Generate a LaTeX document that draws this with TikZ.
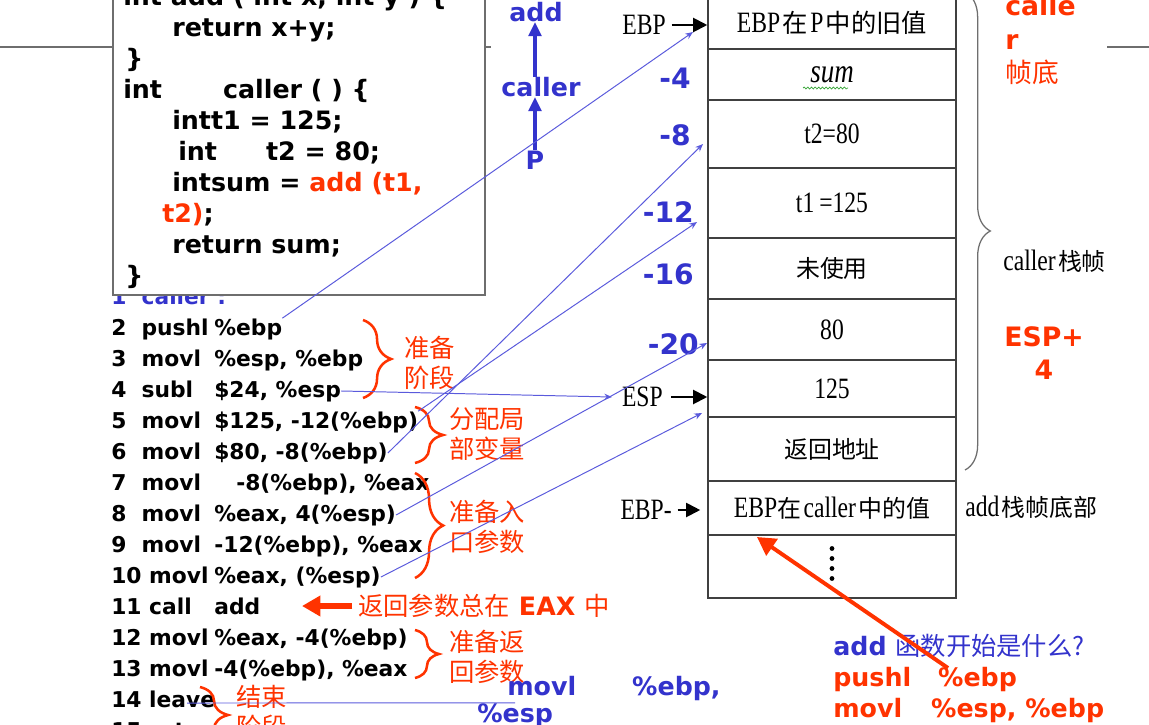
\documentclass[tikz,border=0pt]{standalone}
\usepackage{fontspec}
\setmainfont{DejaVu Sans}
\newfontfamily\cjk{Noto Sans CJK SC}
\newfontfamily\stk{Liberation Serif}[FakeStretch=0.8]
\usetikzlibrary{arrows.meta,decorations.pathreplacing,decorations.pathmorphing}

\newlength\px
\setlength\px{0.025cm}
\definecolor{labblue}{RGB}{51,51,204}
\definecolor{labred}{RGB}{255,51,0}
\definecolor{linkblue}{RGB}{90,90,220}
\definecolor{framegray}{RGB}{110,110,110}

\newcommand\hanzi[1]{{\cjk\mdseries #1}}
\newcommand\stxt[1]{{\stk\fontsize{21}{24}\selectfont #1}}
\newcommand\scjk[1]{{\cjk\fontsize{17}{20}\selectfont #1}}
\newcommand\op[1]{\makebox[103\px][l]{#1}}

\begin{document}
\begin{tikzpicture}
  [x=0.025cm, y=-0.025cm,
   listing/.style={font=\bfseries\fontsize{15.5}{18}\selectfont, anchor=base west, inner sep=0pt},
   boxcode/.style={font=\bfseries\fontsize{18}{21}\selectfont, anchor=base west, inner sep=0pt},
   note/.style={labred, font=\cjk\fontsize{18}{21.3}\selectfont, align=left, anchor=west, inner sep=0pt},
   phase/.style={labred, line width=1.8pt, decorate, decoration={brace, amplitude=20pt}},
   slot/.style={draw=black!75, line width=1.1pt, minimum width=248\px, inner sep=0pt},
   offset/.style={labblue, font=\bfseries\fontsize{20}{24}\selectfont, anchor=east, inner sep=0pt},
   reg/.style={font=\stk\fontsize{21}{24}\selectfont, anchor=east, inner sep=0pt},
   fname/.style={labblue, font=\bfseries\fontsize{18}{21}\selectfont, inner sep=0pt},
   tail/.style={font=\bfseries\fontsize{18}{21}\selectfont, anchor=base west, inner sep=0pt},
   ptr/.style={-{Triangle[length=10pt,width=10pt]}, line width=1.4pt},
   link/.style={linkblue, line width=0.7pt, -{Stealth[length=5.5pt,width=4.5pt]}},
   callarrow/.style={labblue, line width=2.5pt, -{Triangle[length=10pt,width=9pt]}},
   bigred/.style={labred, line width=3.6pt, -{Triangle[length=13pt,width=14pt]}}]
  \useasboundingbox (0,0) rectangle (1149,724);

  % slide rule
  \draw[framegray, line width=1pt] (0,47) -- (113,47);
  \draw[framegray, line width=1pt] (485,47) -- (491,47);
  \draw[framegray, line width=1pt] (1107,47) -- (1149,47);

  % assembly listing
  \node[listing, labblue] (l1) at (111,304) {1\ \ caller :};
  \node[listing] (l2) at (111,335) {\op{2\ \ pushl}\%ebp};
  \node[listing] (l3) at (111,366) {\op{3\ \ movl}\%esp, \%ebp};
  \node[listing] (l4) at (111,397) {\op{4\ \ subl}\$24, \%esp};
  \node[listing] (l5) at (111,428) {\op{5\ \ movl}\$125, -12(\%ebp)};
  \node[listing] (l6) at (111,459) {\op{6\ \ movl}\$80, -8(\%ebp)};
  \node[listing] (l7) at (111,490) {\op{7\ \ movl}\hspace{22\px}-8(\%ebp), \%eax};
  \node[listing] (l8) at (111,521) {\op{8\ \ movl}\%eax, 4(\%esp)};
  \node[listing] (l9) at (111,552) {\op{9\ \ movl}-12(\%ebp), \%eax};
  \node[listing] (l10) at (111,583) {\op{10 movl}\%eax, (\%esp)};
  \node[listing] (l11) at (111,614) {\op{11 call}add};
  \node[listing] (l12) at (111,645) {\op{12 movl}\%eax, -4(\%ebp)};
  \node[listing] (l13) at (111,676) {\op{13 movl}-4(\%ebp), \%eax};
  \node[listing] (l14) at (111,707) {14 leave};
  \node[listing] (l15) at (111,738) {15 ret};

  % C source
  \node[draw=framegray, line width=1.1pt, fill=white, minimum width=372\px,
        minimum height=340\px, inner sep=0pt] (codebox) at (299,125) {};
  \node[boxcode] (c1) at (123,5) {int add ( int x, int y ) \{};
  \node[boxcode] (c2) at (172,36) {return x+y;};
  \node[boxcode] (c3) at (125,67) {\}};
  \node[boxcode] (c4) at (123,98) {int\hspace{61\px}caller ( ) \{};
  \node[boxcode] (c5) at (172,129) {intt1 = 125;};
  \node[boxcode] (c6) at (178,160) {int\hspace{49\px}t2 = 80;};
  \node[boxcode] (c7) at (172,191) {intsum = \textcolor{labred}{add (t1,}};
  \node[boxcode] (c8) at (162,222) {\textcolor{labred}{t2)};};
  \node[boxcode] (c9) at (172,253) {return sum;};
  \node[boxcode] (c10) at (125,284) {\}};

  % phases
  \draw[phase] (363,320) -- (363,398);
  \draw[phase] (415,407) -- (415,463);
  \draw[phase] (415,473) -- (415,578);
  \draw[phase, decoration={amplitude=17pt}] (415,630) -- (415,678);
  \draw[phase] (200,687) -- (200,743);
  \node[note] (prep) at (404,363) {准备\\阶段};
  \node[note] (alloc) at (449,434) {分配局\\部变量};
  \node[note] (args) at (449,527) {准备入\\口参数};
  \node[note] (retv) at (449,657) {准备返\\回参数};
  \node[note] (fin) at (236,712) {结束\\阶段};

  \node[labred, anchor=west, inner sep=0pt, font=\bfseries\fontsize{18}{21}\selectfont]
    (eaxNote) at (358,606) {\hanzi{返回参数总在} EAX \hanzi{中}};
  \coordinate (callTip) at (302,606);
  \draw[bigred, shorten <=4pt] (eaxNote.west) -- (callTip);

  % call chain
  \node[fname] (fAdd) at (536,12) {add};
  \node[fname] (fCaller) at (541,87) {caller};
  \node[fname] (fP) at (535,160) {P};
  \draw[callarrow] (fP.north) -- (fP.north |- fCaller.south);
  \draw[callarrow] (fP.north |- fCaller.north) -- (fP.north |- fAdd.south);

  % stack
  \node[slot, minimum height=52\px] (r0) at (832,23) {\stxt{EBP}\,{\cjk\fontsize{18}{20}\selectfont 在}\,\stxt{P}\,{\cjk\fontsize{18}{20}\selectfont 中的旧值}};
  \node[slot, minimum height=51\px] (r1) at (832,74.5) {\stxt{\fontsize{24}{28}\selectfont\itshape sum}};
  \node[slot, minimum height=68\px] (r2) at (832,134) {\stxt{t2=80}};
  \node[slot, minimum height=70\px] (r3) at (832,203) {\stxt{t1\,=125}};
  \node[slot, minimum height=61\px] (r4) at (832,268.5) {\scjk{未使用}};
  \node[slot, minimum height=61\px] (r5) at (832,329.5) {\stxt{80}};
  \node[slot, minimum height=57\px] (r6) at (832,388.5) {\stxt{125}};
  \node[slot, minimum height=64\px] (r7) at (832,449) {\scjk{返回地址}};
  \node[slot, minimum height=54\px] (r8) at (832,508) {\stxt{EBP}\scjk{在}\,\stxt{caller}\,\scjk{中的值}};
  \node[slot, minimum height=63\px] (r9) at (832,566.5) {};
  \foreach \k in {0,...,3}
    \fill (r9.center) ++(0,-18+10*\k) circle[radius=1.7pt];
  \draw[green!55!black!80, line width=0.5pt, decorate,
        decoration={snake, amplitude=0.7pt, segment length=2.6pt}] (803,88) -- (848,88);

  % registers and offsets
  \node[reg] (ebpP) at (666,25) {EBP};
  \node[reg] (espL) at (663,397) {ESP};
  \node[reg] (ebpA) at (672,510) {EBP-};
  \draw[ptr, shorten <=4pt] (ebpP.east) -- (ebpP.east -| r0.west);
  \draw[ptr, shorten <=6pt] (espL.east) -- (espL.east -| r6.west);
  \draw[ptr, shorten <=4pt, shorten >=5pt] (ebpA.east) -- (ebpA.east -| r8.west);
  \node[offset] (o4) at (691,78) {-4};
  \node[offset] (o8) at (691,135) {-8};
  \node[offset] (o12) at (694,212) {-12};
  \node[offset] (o16) at (694,274) {-16};
  \node[offset] (o20) at (699,344) {-20};

  % frame notes
  \draw[framegray, line width=0.9pt, decorate, decoration={brace, amplitude=18pt}] (965,-8) -- (965,470);
  \node[labred, font=\bfseries\fontsize{19}{23.5}\selectfont, align=left, anchor=west, inner sep=0pt]
    (callerTop) at (1005,40) {calle\\r\\\hanzi{帧底}};
  \node[anchor=west, inner sep=0pt] (frameLbl) at (1003,261) {\stxt{caller}\,\scjk{栈帧}};
  \node[labred, font=\bfseries\fontsize{19}{24}\selectfont, align=center, inner sep=0pt]
    (espPlus) at (1044,353) {ESP+\\4};
  \node[anchor=west, inner sep=0pt] (addBase) at (965,507) {\stxt{add}\,\scjk{栈帧底部}};

  % add prologue
  \node[tail, labblue] (askAdd) at (833,655) {add \hanzi{函数开始是什么?}};
  \node[tail, labred] (pushE) at (833,686) {pushl\hspace{27\px}\%ebp};
  \node[tail, labred] (movE) at (833,717) {movl\hspace{29\px}\%esp, \%ebp};
  \coordinate (pushTail) at (948,668);
  \coordinate (oldTip) at (757,537);
  \draw[bigred, line width=2.8pt] (pushTail) -- (oldTip);

  % leave
  \node[tail, labblue] (lvA) at (507,695) {movl\hspace{56\px}\%ebp,};
  \node[tail, labblue] (lvB) at (477,722) {\%esp};
  \coordinate (lvStart) at (187,703);
  \draw[linkblue, line width=0.7pt] (lvStart) -- (lvB.north);

  % where each instruction writes
  \coordinate (tEBP) at (693,32);
  \coordinate (tM8) at (703,144);
  \coordinate (tM12) at (697,222);
  \coordinate (tM20) at (707,343);
  \coordinate (tESP) at (612,397);
  \coordinate (tRet) at (702,413);
  \draw[link] (l2.north east) -- (tEBP);
  \draw[link] (l4.east) -- (tESP);
  \draw[link] (l5.north east) -- (tM12);
  \draw[link] (l6.east) -- (tM8);
  \draw[link] (l8.east) -- (tM20);
  \draw[link] (l10.east) -- (tRet);
\end{tikzpicture}
\end{document}
